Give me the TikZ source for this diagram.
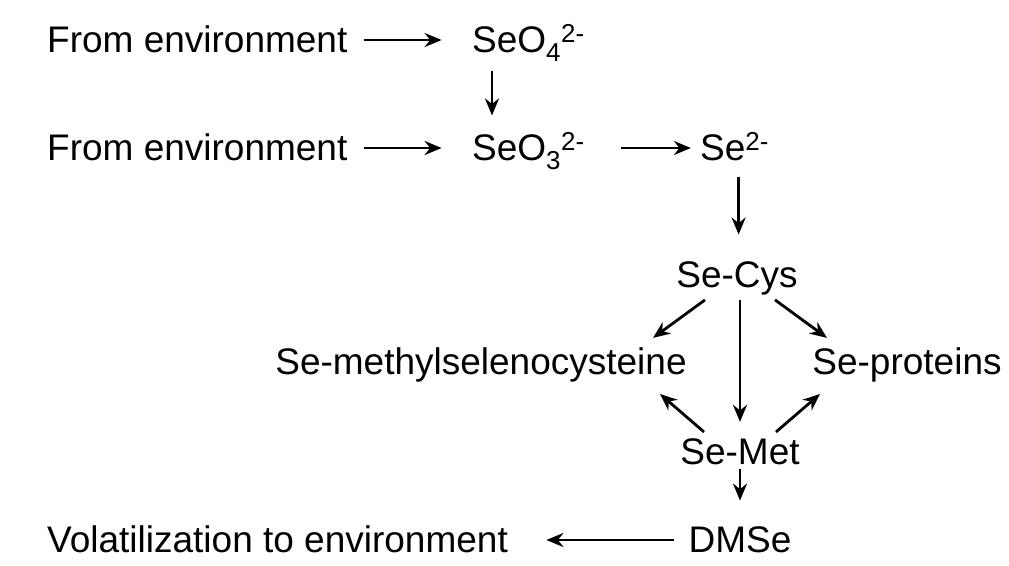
\documentclass[tikz,border=0pt]{standalone}
\usepackage{fontspec}
\setmainfont{Liberation Sans}
\usetikzlibrary{arrows.meta}
\begin{document}
\begin{tikzpicture}[x=1pt,y=-1pt,
  lbl/.style={font=\fontsize{37}{40}\selectfont, inner sep=2pt, anchor=base},
  arr/.style={-{Stealth[length=17pt,width=14pt]}, line width=2.8pt}]
\useasboundingbox (0,0) rectangle (1009,565);
\node[lbl, anchor=base west] (env1) at (45,52) {From environment};
\node[lbl, anchor=base west] (seo4) at (470,52) {SeO\textsubscript{4}\textsuperscript{2-}};
\node[lbl, anchor=base west] (env2) at (45,160) {From environment};
\node[lbl, anchor=base west] (seo3) at (470,160) {SeO\textsubscript{3}\textsuperscript{2-}};
\node[lbl, anchor=base west] (se) at (698,160) {Se\textsuperscript{2-}};
\node[lbl] (cys) at (737,287) {Se-Cys};
\node[lbl] (msc) at (481,374) {Se-methylselenocysteine};
\node[lbl] (prot) at (907,374) {Se-proteins};
\node[lbl] (met) at (740,464) {Se-Met};
\node[lbl] (dmse) at (740,552) {DMSe};
\node[lbl, anchor=base west] (vol) at (45,552) {Volatilization to environment};
\draw[arr] (env1.base east) ++(14,-12) -- ++(78,0);
\draw[arr] (env2.base east) ++(14,-12) -- ++(78,0);
\draw[arr] (seo3.base east) ++(34,-12) -- ++(70,0);
\draw[arr] (seo4.south west) ++(22,8) -- ++(0,44);
\draw[arr] (se.south) ++(4,14) -- ++(0,58);
\draw[arr] (cys.south) ++(3,3) -- ++(0,122);
\draw[arr] (cys.south) ++(-32,3) -- ++(-52,38);
\draw[arr] (cys.south) ++(38,3) -- ++(52,38);
\draw[arr] (met.north) ++(-36,-4) -- ++(-44,-38);
\draw[arr] (met.north) ++(36,-4) -- ++(44,-38);
\draw[arr] (met.south) ++(0,2) -- ++(0,32);
\draw[arr] (dmse.base west) ++(-12,-12) -- ++(-128,0);
\end{tikzpicture}
\end{document}
